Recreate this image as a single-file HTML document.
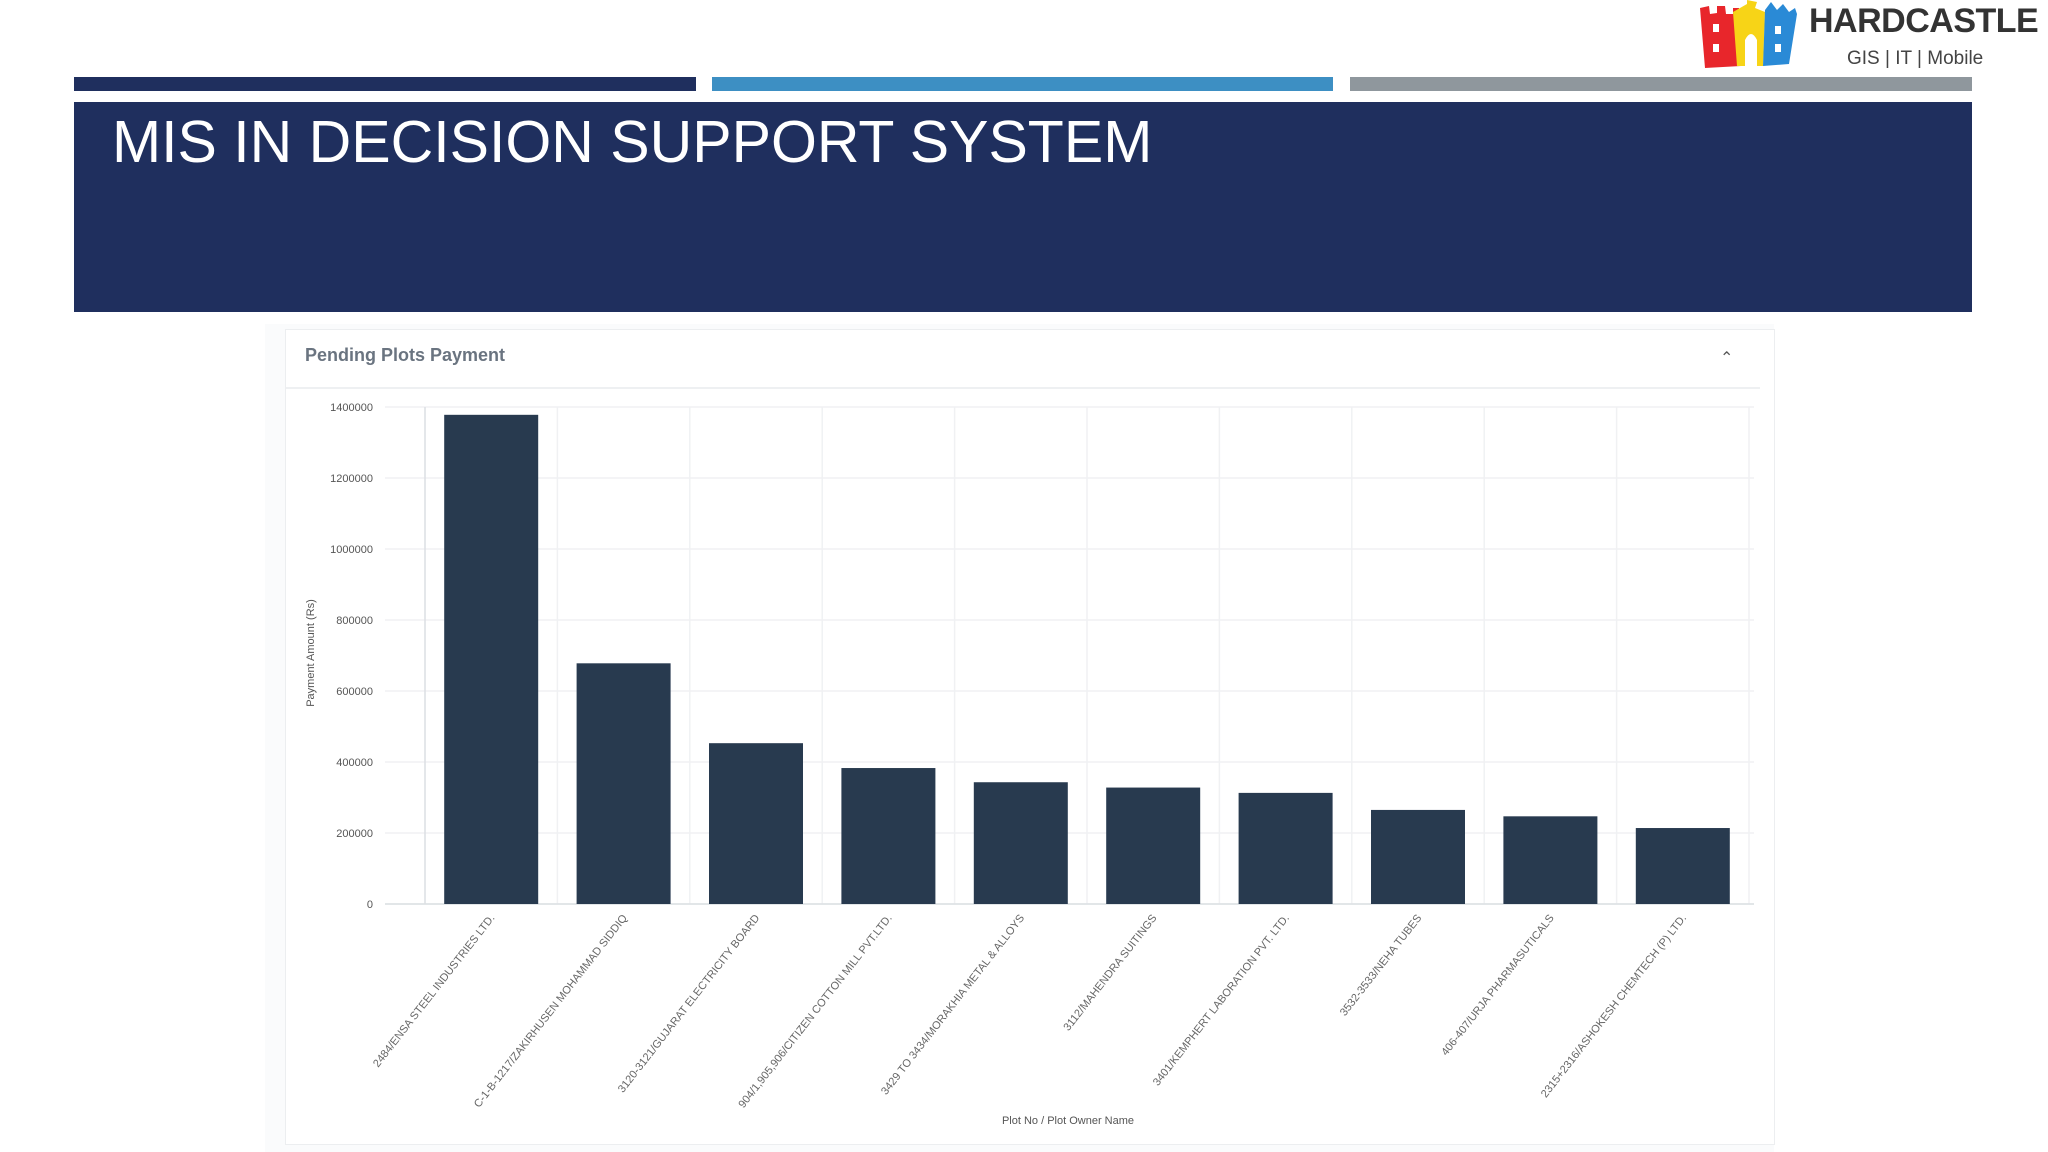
<!DOCTYPE html>
<html><head><meta charset="utf-8"><style>
body{margin:0;width:2048px;height:1152px;background:#fff;overflow:hidden;font-family:"Liberation Sans",sans-serif;position:relative}
.abs{position:absolute}
</style></head><body>
<div class="abs" style="left:1695px;top:0;width:353px;height:72px">
 <svg width="110" height="72" style="position:absolute;left:0;top:0">
  <path d="M5 8 L14 6 L15 14 L22 13 L22 6 L30 6 L31 14 L38 14 L38 8 L44 8 L46 66 L10 68 Z" fill="#e8262b"/>
  <path d="M38 12 L52 4 L52 0 L62 2 L60 8 L70 12 L68 66 L42 66 Z" fill="#f7d417"/>
  <path d="M70 10 L76 2 L82 10 L88 4 L94 12 L100 8 L102 14 L94 64 L68 66 Z" fill="#2a8ad6"/>
  <path d="M50 66 L50 40 Q56 28 62 40 L62 66 Z" fill="#fff"/>
  <rect x="18" y="24" width="6" height="8" fill="#fff"/><rect x="18" y="44" width="6" height="8" fill="#fff"/>
  <rect x="80" y="26" width="6" height="8" fill="#fff"/><rect x="80" y="44" width="6" height="8" fill="#fff"/>
 </svg>
 <div class="abs" style="left:114px;top:2px;font-size:34px;font-weight:bold;color:#333;letter-spacing:-0.5px">HARDCASTLE</div>
 <div class="abs" style="left:152px;top:48px;font-size:19px;color:#444">GIS | IT | Mobile</div>
</div>
<div class="abs" style="left:74px;top:77px;width:622px;height:14px;background:#1f2f5e"></div>
<div class="abs" style="left:712px;top:77px;width:621px;height:14px;background:#3d8fc3"></div>
<div class="abs" style="left:1350px;top:77px;width:622px;height:14px;background:#8f979d"></div>
<div class="abs" style="left:74px;top:102px;width:1898px;height:210px;background:#1f2f5e">
 <div class="abs" style="left:38px;top:6px;font-size:59px;color:#fff">MIS IN DECISION SUPPORT SYSTEM</div>
</div>
<div class="abs" style="left:265px;top:324px;width:1509px;height:828px;background:#fafbfc"></div>
<div class="abs" style="left:285px;top:329px;width:1488px;height:814px;background:#fff;border:1px solid #eceef0">
 <div class="abs" style="left:19px;top:15px;font-size:18px;font-weight:bold;color:#6a7480">Pending Plots Payment</div>
 <div class="abs" style="left:1434px;top:18px;font-size:16px;color:#555">&#8963;</div>
 <div class="abs" style="left:0;top:57px;width:1474px;height:2px;background:#eef0f2"></div>
</div>
<svg id="chart" class="abs" style="left:0;top:0" width="2048" height="1152"></svg>
<script>
const categories=["2484/ENSA STEEL INDUSTRIES LTD.","C-1-B-1217/ZAKIRHUSEN MOHAMMAD SIDDIQ","3120-3121/GUJARAT ELECTRICITY BOARD","904/1,905,906/CITIZEN COTTON MILL PVT.LTD.","3429 TO 3434/MORAKHIA METAL & ALLOYS","3112/MAHENDRA SUITINGS","3401/KEMPHERT LABORATION PVT. LTD.","3532-3533/NEHA TUBES","406-407/URJA PHARMASUTICALS","2315+2316/ASHOKESH CHEMTECH (P) LTD."];
const values=[1378000,678000,453000,383000,343000,328000,313000,265000,247000,214000];
const yTicks=[0,200000,400000,600000,800000,1000000,1200000,1400000];
const NS="http://www.w3.org/2000/svg";
const svg=document.getElementById('chart');
const x0=425,x1=1749,y0=904,yTop=407,yMax=1400000;
const band=(x1-x0)/categories.length,bw=94;
const ys=v=>y0-(v/yMax)*(y0-yTop);
const xc=i=>x0+band*(i+0.5);
function mk(t,a){const e=document.createElementNS(NS,t);for(const k in a)e.setAttribute(k,a[k]);svg.appendChild(e);return e;}
yTicks.forEach(v=>{
 const g=mk('line',{x1:x0-40,x2:x1+5,y1:ys(v),y2:ys(v),stroke:'#f0f1f3','stroke-width':1.5});
 
 
 const t=mk('text',{x:373,y:ys(v)+4,'text-anchor':'end','font-size':11,fill:'#555','font-family':'Liberation Sans'});
 t.textContent=v;
 
 
});
for(let i=0;i<=categories.length;i++){
 const l=mk('line',{x1:x0+band*i,x2:x0+band*i,y1:yTop,y2:y0,stroke:i==0?'#dcdfe3':'#f0f1f3','stroke-width':1.5});
 
 
}
mk('line',{x1:x0-40,x2:x1+5,y1:y0,y2:y0,stroke:'#dcdfe3','stroke-width':1.5});
categories.forEach((c,i)=>{
 const r=mk('rect',{x:xc(i)-bw/2,y:ys(values[i]),width:bw,height:y0-ys(values[i]),fill:'#283a4f'});
 
 
 const t=mk('text',{x:xc(i)+4,y:y0+14,'text-anchor':'end','font-size':11,fill:'#666','font-family':'Liberation Sans',transform:`rotate(-52 ${xc(i)+4} ${y0+14})`});
 t.textContent=c;
 
 
});
const yt=mk('text',{x:314,y:653,'text-anchor':'middle','font-size':11,fill:'#555','font-family':'Liberation Sans',transform:'rotate(-90 314 653)'});
yt.textContent='Payment Amount (Rs)';


const xt=mk('text',{x:1068,y:1124,'text-anchor':'middle','font-size':11,fill:'#555','font-family':'Liberation Sans'});
xt.textContent='Plot No / Plot Owner Name';


</script>
</body></html>
